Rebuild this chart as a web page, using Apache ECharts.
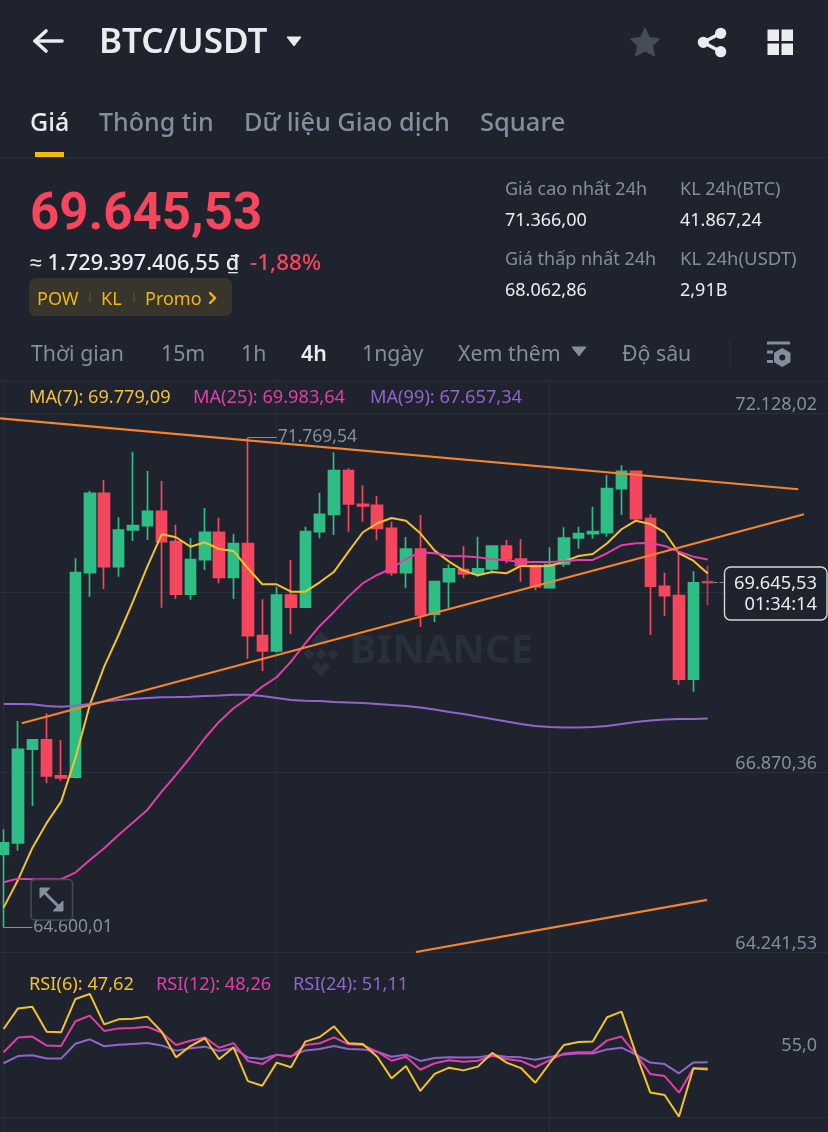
<!DOCTYPE html>
<html>
<head>
<meta charset="utf-8">
<title>BTC/USDT</title>
<script src="https://cdn.jsdelivr.net/npm/echarts@6/dist/echarts.min.js"></script>
<style>
html,body{margin:0;padding:0;background:#1e232d;}
#chart{width:828px;height:1132px;}
</style>
</head>
<body>
<div id="chart"></div>
<script>
// open, close, low, high
var candles = [
	[65672,65838,64600.01,66038],[65838,67208,65725,67622],[67208,67344,66379,67350],[67344,66818,66711,67735],
	[66818,66789,66749,67344],[66799,69792,66779,70002],[69792,70953,69441,70991],[70953,69880,69553,71148],
	[69880,70416,69733,70602],[70416,70479,70255,71562],[70479,70690,70270,71279],[70690,70245,69280,71133],
	[70245,69476,69407,70494],[69476,69982,69397,70299],[69982,70383,69831,70738],[70383,69724,69637,70596],
	[69724,70216,69407,70358],[70216,68870,68534,71769.54],[68870,68646,68354,69403],[68646,69465,68621,69587],
	[69465,69286,68895,69978],[69286,70392,69286,70465],[70392,70646,70295,70962],[70646,71284,70343,71553],
	[71284,70797,70392,71319],[70792,70768,70538,71070],[70778,70441,70266,70914],[70441,69792,69748,70538],
	[69792,70138,69564,70314],[70138,69173,68997,70636],[69183,69660,69071,69670],[69660,69846,69280,69915],
	[69836,69773,69710,70178],[69773,69846,69733,70319],[69846,70182,69806,70190],[70182,69992,69929,70270],
	[69992,69894,69660,70280],[69894,69587,69534,69900],[69572,69909,69572,70163],[69919,70299,69875,70456],
	[70299,70362,70143,70465],[70362,70392,70289,70757],[70377,71021,70319,71221],[71021,71275,70636,71363],
	[71275,70582,70538,71285],[70582,69593,68880,70646],[69593,69455,69158,69792],[69455,68232,68153,70099],
	[68232,69641,68051,69812],[69660,69645.53,69315,69894]
];
var ma7 = [64891,65296,65764,66130,66442,67081,67856,68417,68880,69368,69880,70353,70310,70172,70236,70138,70109,69856,69622,69622,69514,69514,69651,69806,70099,70383,70514,70592,70552,70368,70114,69953,69821,69754,69802,69783,69890,69885,69890,69953,70036,70065,70222,70427,70552,70504,70383,70076,69967,69779.09];
var ma25 = [65263,65315,65306,65306,65306,65403,65589,65760,65955,66135,66320,66588,66832,67091,67369,67612,67808,67954,68124,68262,68490,68759,69012,69221,69441,69637,69758,69856,69992,70090,70076,70036,70032,70017,69988,69973,69948,69948,69948,69959,69978,69978,70076,70193,70222,70226,70182,70099,70026,69983.64];
var ma99 = [67871,67871,67867,67842,67831,67846,67871,67905,67929,67944,67959,67969,67973,67978,67988,67993,68007,68007,67988,67959,67929,67919,67915,67900,67893,67885,67871,67856,67842,67820,67791,67754,67725,67688,67652,67615,67578,67549,67534,67527,67527,67534,67549,67578,67608,67630,67644,67652,67652,67657.34];
var rsi6 = [66.9,76.7,77.5,65.6,65.3,81.2,83.6,69.1,71.5,71.8,72.8,65.6,53.4,58.8,62.5,52.5,58.2,42.1,39.9,50.9,48.7,60.9,63.1,68.2,60.1,59.8,53.7,43.4,49.3,37.4,45.5,48.5,47.2,49,55.5,50.9,48.3,41.3,50.6,59.3,60.7,61,72.5,75.2,55.3,36.7,35.5,25.2,48.2,47.62];
var rsi12 = [55.8,62.8,63.3,59,58.8,70.6,73.3,66,67.2,67.4,68,65.2,59.3,61.3,62.9,58,60.2,51.7,50.2,54.7,53.7,59.3,60.1,62.9,59.6,59.3,56.1,51.8,53.7,47.5,50.6,52,51.3,51.8,54.2,52.6,51.7,48.7,52.1,55.2,55.8,56,61.5,63.3,54.8,45.5,44.5,36.6,48.2,48.26];
var rsi24 = [50.6,54,54.4,52.9,52.8,59.9,62,58.7,59.4,59.8,60.2,59.1,56.6,57.7,58.5,56.4,57.9,53.3,52.6,54.7,53.9,56.7,57.4,58.8,57.4,57.2,56.1,53.7,54.7,51.7,53.1,53.4,53.3,53.4,54.5,53.7,53.4,52.3,53.6,54.8,55.2,55.2,57.2,58,54.7,50.9,50.2,45.8,51,51.11];

// hand drawn trend lines: [candle index, price]
var trendTop = [[-0.25,72050],[55.3,71012]];
var trendMid = [[1.26,67589],[55.7,70646]];
var trendLow = [[28.7,64241.53],[48.95,65004]];

var priceTicks = [64241.53,66870.36,69499.19,72128.02];
var priceLabelValues = [64241.53,66870.36,72128.02];
var priceLabels = ['64.241,53','66.870,36','72.128,02'];
var rsiTicks = [25];
var rsiLabelValues = [55];
var rsiLabels = ['55,0'];
var timeTicks = [0,19,38];

var maLegend = [['MA(7): 69.779,09',29],['MA(25): 69.983,64',193],['MA(99): 67.657,34',370]];
var rsiLegend = [['RSI(6): 47,62',29],['RSI(12): 48,26',156],['RSI(24): 51,11',293]];

var BG = '#1e232d', GRID = '#2a303a', GRAY = '#848e9c', WHITE = '#eaecef', RED = '#f6465d', GREEN = '#2ebd85';
var YELLOW = '#f0b90b', MA_YELLOW = '#f5c12e', PINK = '#e23fa9', PURPLE = '#9265cc', ORANGE = '#f7842a';
var FONT = '"Noto Sans", sans-serif';

function txt(text, x, y, fill, size, weight, align, family, z) {
	return {
		type: 'text', z: z || 50, silent: true, x: x, y: y,
		style: {
			text: text, fill: fill, fontSize: size, fontWeight: weight || 400, fontFamily: family || FONT,
			align: align || 'left', verticalAlign: 'middle', textAlign: align || 'left', textVerticalAlign: 'middle'
		}
	};
}
// filled shape for icons
function poly(points, fill, z) {
	return {
		type: 'polygon', z: z || 50, silent: true,
		shape: { points: points },
		style: { fill: fill, stroke: fill, lineWidth: 1, lineJoin: 'round' }
	};
}
// open stroke for icons
function stroke(points, color, width) {
	return {
		type: 'polyline', z: 50, silent: true,
		shape: { points: points },
		style: { fill: 'none', stroke: color, lineWidth: width, lineCap: 'round', lineJoin: 'round' }
	};
}
function box(x, y, w, h, r, fill, strokeColor, width, z) {
	return {
		type: 'rect', z: z || 40, silent: true,
		shape: { x: x, y: y, width: w, height: h, r: r },
		style: { fill: fill || 'none', stroke: strokeColor || 'none', lineWidth: width || 0 }
	};
}
function dot(cx, cy, r, fill) {
	return { type: 'circle', z: 50, silent: true, shape: { cx: cx, cy: cy, r: r }, style: { fill: fill } };
}

var WATERMARK = '#2a303a';
var graphics = [
	// top bar
	stroke([[35,41],[62,41]], WHITE, 3.6),
	stroke([[46,31],[35,41],[46,51]], WHITE, 3.6),
	txt('BTC/USDT', 99, 43, WHITE, 35, 600),
	poly([[287,37],[301,37],[294,46]], WHITE),
	poly([[645,28],[649.5,37.5],[659.5,39],[652.5,46],[654.5,56],[645,51],[635.5,56],[637.5,46],[630.5,39],[640.5,37.5]], '#474d57'),
	stroke([[720.7,33.3],[703.3,42.3],[720.7,51.7]], WHITE, 3.4),
	dot(720.7, 33.3, 5.6, WHITE), dot(703.3, 42.3, 5.6, WHITE), dot(720.7, 51.7, 5.6, WHITE),
	box(767.5, 29.5, 11.5, 11.5, 0, WHITE), box(781.5, 29.5, 11.5, 11.5, 0, WHITE),
	box(767.5, 43.5, 11.5, 11.5, 0, WHITE), box(781.5, 43.5, 11.5, 11.5, 0, WHITE),
	// tabs
	txt('Giá', 30, 124, WHITE, 25, 500),
	txt('Thông tin', 99, 124, GRAY, 25, 500),
	txt('Dữ liệu Giao dịch', 244, 124, GRAY, 25.3, 500),
	txt('Square', 480, 124, GRAY, 25.5, 500),
	box(35, 152, 29, 5, 0, YELLOW),
	box(0, 157, 828, 1, 0, GRID),
	// price block
	txt('69.645,53', 30, 216, RED, 51, 700, 'left', 'Roboto'),
	txt('≈ 1.729.397.406,55 ₫', 30, 264, WHITE, 21.7, 500),
	txt('-1,88%', 250, 264, RED, 22.5, 500),
	box(29, 278, 203, 38, 7, '#37352c'),
	txt('POW', 37, 299.5, YELLOW, 18),
	box(89.5, 293, 1, 9, 0, '#6d5f2b'),
	txt('KL', 101, 299.5, YELLOW, 18),
	box(133.5, 293, 1, 9, 0, '#6d5f2b'),
	txt('Promo', 145, 299.5, YELLOW, 18),
	stroke([[210,293],[215,298],[210,303]], YELLOW, 2.4),
	// 24h stats
	txt('Giá cao nhất 24h', 505, 190, GRAY, 18),
	txt('KL 24h(BTC)', 680, 190, GRAY, 18),
	txt('71.366,00', 505, 220.5, WHITE, 18),
	txt('41.867,24', 680, 220.5, WHITE, 18),
	txt('Giá thấp nhất 24h', 505, 259.5, GRAY, 18),
	txt('KL 24h(USDT)', 680, 259.5, GRAY, 18.5),
	txt('68.062,86', 505, 290.5, WHITE, 18),
	txt('2,91B', 680, 290.5, WHITE, 18),
	// time frames
	txt('Thời gian', 31, 355, GRAY, 21.3),
	txt('15m', 161, 355, GRAY, 21.3),
	txt('1h', 241, 355, GRAY, 21.3),
	txt('4h', 301, 355, WHITE, 21.3, 600),
	txt('1ngày', 362, 355, GRAY, 21.3),
	txt('Xem thêm', 458, 355, GRAY, 21.3),
	poly([[572,347],[586,347],[579,356]], GRAY),
	txt('Độ sâu', 622, 355, GRAY, 21.3),
	box(729.5, 337, 1, 31, 0, GRID),
	box(767, 341.5, 23, 3, 0, GRAY), box(767, 350.5, 6, 3, 0, GRAY), box(767, 360, 6, 3, 0, GRAY),
	poly([[782.3,348.5],[790,353],[790,362],[782.3,366.5],[774.5,362],[774.5,353]], GRAY),
	dot(782.3, 357.5, 3, BG),
	box(0, 380.5, 828, 1, 0, GRID),
	// watermark
	poly([[321,632],[330,641],[325.5,645.5],[321,641],[316.5,645.5],[312,641]], WATERMARK, -1),
	poly([[304,654],[309,649],[314,654],[309,659]], WATERMARK, -1),
	poly([[316,654],[321,649],[326,654],[321,659]], WATERMARK, -1),
	poly([[328,654],[333,649],[338,654],[333,659]], WATERMARK, -1),
	poly([[312,667],[316.5,662.5],[321,667],[325.5,662.5],[330,667],[321,676]], WATERMARK, -1),
	txt('BINANCE', 350, 652, WATERMARK, 40, 700, 'left', FONT, -1),
	// expand button
	box(31, 879.5, 41.5, 40.5, 4, BG, '#474d57', 1.5),
	stroke([[44,892],[59,907]], GRAY, 3),
	poly([[40,888],[50,888],[40,898]], GRAY),
	poly([[63,911],[53,911],[63,901]], GRAY),
	// current price tag
	box(724.5, 567, 102.5, 53, 6, BG, '#d5d8dc', 1.4, 60),
	txt('69.645,53', 817, 584, WHITE, 18.3, 400, 'right', FONT, 61),
	txt('01:34:14', 817, 605, WHITE, 18.3, 400, 'right', FONT, 61)
];
var legendColors = [MA_YELLOW, PINK, PURPLE];
maLegend.forEach(function (l, i) { graphics.push(txt(l[0], l[1], 398, legendColors[i], 18.2)); });
rsiLegend.forEach(function (l, i) { graphics.push(txt(l[0], l[1], 985, legendColors[i], 18.2)); });

function pairs(values) {
	return values.map(function (v, i) { return [i, v]; });
}
function line(name, data, color, xIdx, width) {
	return {
		name: name, type: 'line', data: data, xAxisIndex: xIdx, yAxisIndex: xIdx,
		showSymbol: false, silent: true, z: 5,
		lineStyle: { color: color, width: width || 2 }
	};
}
function xAxis(gridIndex) {
	return {
		type: 'value', gridIndex: gridIndex, min: -1, max: 58,
		axisLine: { show: false }, axisLabel: { show: false },
		axisTick: { show: false, customValues: timeTicks },
		splitLine: { show: true, lineStyle: { color: GRID, width: 1 } }
	};
}
function yAxis(gridIndex, min, max, tickValues, labelValues, labels) {
	return {
		type: 'value', gridIndex: gridIndex, position: 'right', min: min, max: max, scale: true,
		axisLine: { show: false },
		axisTick: { show: false, customValues: tickValues },
		splitLine: { show: true, lineStyle: { color: GRID, width: 1 } },
		axisLabel: {
			inside: true, margin: 20, color: GRAY, fontSize: 18, lineHeight: 16, fontFamily: FONT,
			verticalAlign: 'bottom',
			customValues: labelValues,
			formatter: function (v) { return labels[labelValues.indexOf(v)]; }
		}
	};
}

var lastIndex = candles.length - 1;
var candleData = candles.map(function (c, i) {
	var item = [i, c[0], c[1], c[2], c[3]];
	return i === lastIndex ? { value: item, itemStyle: { opacity: 0.72 } } : item;
});

var myChart = echarts.init(document.getElementById('chart'));
var option = {
	backgroundColor: BG,
	animation: false,
	graphic: graphics,
	grid: [
		{ left: -10.77, top: 381, width: 847.83, height: 571, outerBoundsMode: 'none' },
		{ left: -10.77, top: 952, width: 847.83, height: 180, outerBoundsMode: 'none' }
	],
	xAxis: [xAxis(0), xAxis(1)],
	yAxis: [
		yAxis(0, 64241.53, 72596.15, priceTicks, priceLabelValues, priceLabels),
		yAxis(1, 17.86, 103.57, rsiTicks, rsiLabelValues, rsiLabels)
	],
	series: [
		{
			type: 'candlestick', data: candleData, xAxisIndex: 0, yAxisIndex: 0,
			encode: { x: 0, y: [1, 2, 3, 4] },
			barWidth: 11, silent: true, z: 3, clip: false,
			itemStyle: { color: GREEN, color0: RED, borderColor: GREEN, borderColor0: RED, borderWidth: 1.7 },
			markLine: {
				silent: true, symbol: 'none', animation: false,
				lineStyle: { color: GRAY, width: 1, type: 'solid' },
				label: { position: 'end', color: GRAY, fontSize: 17.5, fontFamily: FONT, distance: 1 },
				data: [
					[{ coord: [17, 71769.54], label: { formatter: '71.769,54' } }, { coord: [19, 71769.54] }],
					[{ coord: [0, 64600.01], label: { formatter: '64.600,01' } }, { coord: [2, 64600.01] }],
					[
						{ coord: [49.4, 69645.53], lineStyle: { color: GRAY, type: 'dashed', width: 1 }, label: { show: false } },
						{ coord: [50.1, 69645.53] }
					]
				]
			}
		},
		line('MA7', pairs(ma7), MA_YELLOW, 0),
		line('MA25', pairs(ma25), PINK, 0),
		line('MA99', pairs(ma99), PURPLE, 0),
		line('trendTop', trendTop, ORANGE, 0, 2.2),
		line('trendMid', trendMid, ORANGE, 0, 2.2),
		line('trendLow', trendLow, ORANGE, 0, 2.2),
		line('RSI24', pairs(rsi24), PURPLE, 1),
		line('RSI12', pairs(rsi12), PINK, 1),
		line('RSI6', pairs(rsi6), MA_YELLOW, 1)
	]
};
myChart.setOption(option);
</script>
</body>
</html>
